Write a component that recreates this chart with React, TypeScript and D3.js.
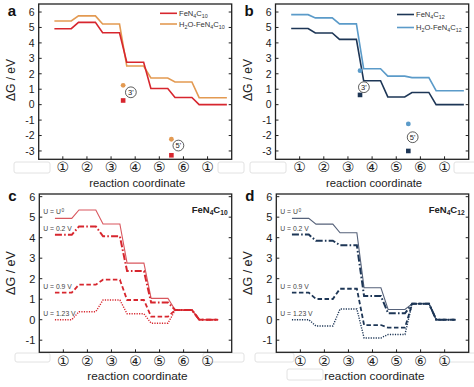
import React from "react";
import * as d3 from "d3";

// circled step labels along the reaction coordinate
const stepLabels = ["①", "②", "③", "④", "⑤", "⑥", "①"];

// panel a: FeN4C10
const feN4C10 = [4.92, 5.33, 4.66, 2.75, 1.05, 0.46, 0];
const h2oFeN4C10 = [5.42, 5.75, 5.22, 2.5, 1.73, 1.47, 0.45];
const feN4C10Side = [0.27, -3.28];
const h2oFeN4C10Side = [1.25, -2.24];

// panel b: FeN4C12
const feN4C12 = [4.93, 4.64, 4.23, 1.55, 0.5, 0.79, 0];
const h2oFeN4C12 = [5.83, 5.62, 5.23, 2.33, 1.85, 1.75, 0.9];
const feN4C12Side = [0.63, -3.0];
const h2oFeN4C12Side = [2.2, -1.25];

// side intermediates 3' and 5' sit between steps
const sideSteps = [2.5, 4.5];
const sideNames = ["3'", "5'"];

// panel c: FeN4C10 at potentials
const c10U0 = [4.94, 5.35, 4.67, 2.76, 1.04, 0.47, 0];
const c10U02 = [4.14, 4.55, 4.07, 2.37, 0.84, 0.47, 0];
const c10U09 = [1.32, 1.71, 1.95, 0.96, 0.15, 0.47, 0];
const c10U123 = [0, 0.39, 0.96, 0.29, -0.17, 0.47, 0];

// panel d: FeN4C12 at potentials
const c12U0 = [4.94, 4.66, 4.24, 1.56, 0.5, 0.78, 0];
const c12U02 = [4.15, 3.85, 3.63, 1.15, 0.31, 0.78, 0];
const c12U09 = [1.32, 1.01, 1.51, -0.26, -0.39, 0.78, 0];
const c12U123 = [0, -0.31, 0.52, -0.89, -0.72, 0.78, 0];

const potLabels = ["U = U", "U = 0.2 V", "U = 0.9 V", "U = 1.23 V"];

const ticksAB = [-3, -2, -1, 0, 1, 2, 3, 4, 5, 6];
const ticksCD = [-1, 0, 1, 2, 3, 4, 5, 6];

const RED = "#d7262e";
const ORANGE = "#e39a52";
const NAVY = "#1d3656";
const LBLUE = "#5b9bc9";
const FONT = "Liberation Sans, Arial, sans-serif";

// plateau path for an energy profile
function stepPath(vals: number[], x: any, y: any, hw: number, lastRight: number) {
  const pts: [number, number][] = [];
  vals.forEach((v, i) => {
    pts.push([i - hw, v]);
    pts.push([i === vals.length - 1 ? i + lastRight : i + hw, v]);
  });
  return d3.line<[number, number]>().x((d) => x(d[0])).y((d) => y(d[1]))(pts) || "";
}

function Formula({ parts, size }: { parts: [string, boolean][]; size: number }) {
  return (
    <>
      {parts.map(([t, sub], i) => (
        <tspan key={i} fontSize={sub ? size * 0.7 : size} dy={i === 0 ? 0 : sub ? size * 0.25 : -size * 0.25}>
          {t}
        </tspan>
      ))}
    </>
  );
}

const fe10Parts: [string, boolean][] = [["FeN", false], ["4", true], ["C", false], ["10", true]];
const fe12Parts: [string, boolean][] = [["FeN", false], ["4", true], ["C", false], ["12", true]];
const h2o10Parts: [string, boolean][] = [["H", false], ["2", true], ["O-FeN", false], ["4", true], ["C", false], ["10", true]];
const h2o12Parts: [string, boolean][] = [["H", false], ["2", true], ["O-FeN", false], ["4", true], ["C", false], ["12", true]];

function Frame({ L, R, T, B, y, ticks, labelY, fs, letter, letterY, ylab, rcY }: any) {
  const x = d3.scaleLinear().domain([-1, 7]).range([L, R]);
  return (
    <g fontFamily={FONT}>
      <rect x={L} y={T} width={R - L} height={B - T} fill="none" stroke="#222" strokeWidth={1.3} />
      {ticks.map((t: number) => (
        <g key={t}>
          <line x1={L} x2={L + 3} y1={y(t)} y2={y(t)} stroke="#222" />
          <line x1={R} x2={R - 3} y1={y(t)} y2={y(t)} stroke="#222" />
          <text x={L - 4} y={y(t)} dy="0.36em" textAnchor="end" fontSize={fs} fill="#222">
            {t}
          </text>
        </g>
      ))}
      {stepLabels.map((s, i) => (
        <g key={i}>
          <line x1={x(i)} x2={x(i)} y1={B} y2={B - 3} stroke="#222" />
          <text x={x(i)} y={labelY} dy="0.36em" textAnchor="middle" fontSize={14} fontFamily="DejaVu Sans" fill="#222">
            {s}
          </text>
        </g>
      ))}
      <text x={L - 31} y={letterY} fontSize={15} fontWeight="bold" fill="#111">
        {letter}
      </text>
      <text transform={`translate(${L - 24},${ylab}) rotate(-90)`} textAnchor="middle" fontSize={fs + 1.5} fill="#222">
        ΔG / eV
      </text>
      <text x={(L + R) / 2 + 2} y={rcY} textAnchor="middle" fontSize={fs + 0.8} fill="#222">
        reaction coordinate
      </text>
    </g>
  );
}

function GhostBox({ x, y, w, h }: any) {
  return <rect x={x} y={y} width={w} height={h} rx={2} fill="#fff" stroke="#e2e2e2" strokeWidth={1} />;
}

function TopPanel({ L, R, dark, light, darkSide, lightSide, darkCol, lightCol, letter, darkParts, lightParts, legX, legY, sideLab }: any) {
  const T = 4, B = 159.3;
  const x = d3.scaleLinear().domain([-1, 7]).range([L, R]);
  const y = d3.scaleLinear().domain([-3.54, 6.52]).range([B, T]);
  return (
    <g>
      <Frame L={L} R={R} T={T} B={B} y={y} ticks={ticksAB} labelY={166.5} fs={10.5} letter={letter} letterY={16} ylab={80} rcY={187} />
      <path d={stepPath(light, x, y, 0.35, 0.8)} fill="none" stroke={lightCol} strokeWidth={1.6} />
      <path d={stepPath(dark, x, y, 0.35, 0.8)} fill="none" stroke={darkCol} strokeWidth={1.6} />
      {sideSteps.map((s, i) => (
        <g key={i}>
          <circle cx={x(s)} cy={y(lightSide[i])} r={2.4} fill={lightCol} />
          <rect x={x(s) - 2.3} y={y(darkSide[i]) - 2.3} width={4.6} height={4.6} fill={darkCol} />
          <circle cx={x(sideLab[i][0])} cy={y(sideLab[i][1])} r={5.4} fill="#fff" stroke="#333" strokeWidth={0.8} />
          <text x={x(sideLab[i][0])} y={y(sideLab[i][1])} dy="0.35em" textAnchor="middle" fontSize={7.5} fontFamily={FONT} fill="#222">
            {sideNames[i]}
          </text>
        </g>
      ))}
      <g fontFamily={FONT} fill="#333">
        <line x1={legX} x2={legX + 17} y1={legY[0]} y2={legY[0]} stroke={darkCol} strokeWidth={1.6} />
        <line x1={legX} x2={legX + 17} y1={legY[1]} y2={legY[1]} stroke={lightCol} strokeWidth={1.6} />
        <text x={legX + 19} y={legY[0] + 2.6}>
          <Formula parts={darkParts} size={7.6} />
        </text>
        <text x={legX + 19} y={legY[1] + 2.6}>
          <Formula parts={lightParts} size={7.6} />
        </text>
      </g>
    </g>
  );
}

function BottomPanel({ L, R, series, col, u0Col, letter, titleParts }: any) {
  const T = 194, B = 352.3;
  const x = d3.scaleLinear().domain([-1, 7]).range([L, R]);
  const y = d3.scaleLinear().domain([-1.59, 6.13]).range([B, T]);
  const styles = [
    { dash: "none", w: 1.1, c: u0Col },
    { dash: "7,2.2,1.6,2.2", w: 2, c: col },
    { dash: "4.5,2.5", w: 1.8, c: col },
    { dash: "1.2,1.3", w: 1.4, c: col },
  ];
  return (
    <g>
      <Frame L={L} R={R} T={T} B={B} y={y} ticks={ticksCD} labelY={360.5} fs={11} letter={letter} letterY={201} ylab={273} rcY={380} />
      {series.map((s: number[], k: number) => (
        <path key={k} d={stepPath(s, x, y, 0.35, 0.45)} fill="none" stroke={styles[k].c} strokeWidth={styles[k].w} strokeDasharray={styles[k].dash} />
      ))}
      {series.map((s: number[], k: number) => (
        <text key={k} x={L + 4} y={y(s[0]) - 4} fontSize={6.8} fontFamily={FONT} fill="#444">
          {potLabels[k]}
          {k === 0 && (
            <tspan fontSize={4.8} dx={0.5} dy={-2.6}>
              0
            </tspan>
          )}
        </text>
      ))}
      <text x={R - 40} y={213} fontFamily={FONT} fontWeight="bold" fill="#222">
        <Formula parts={titleParts} size={9.5} />
      </text>
    </g>
  );
}

export default function App() {
  return (
    <svg width={474} height={387} style={{ position: "absolute", left: 0, top: 0, background: "#fff" }}>
      <GhostBox x={14} y={162} w={36} h={11} />
      <GhostBox x={218} y={162} w={26} h={11} />
      <GhostBox x={250} y={162} w={36} h={11} />
      <GhostBox x={454} y={162} w={22} h={11} />
      <GhostBox x={15} y={353} w={35} h={9} />
      <GhostBox x={203} y={353} w={41} h={9} />
      <GhostBox x={255} y={353} w={39} h={9} />
      <GhostBox x={440} y={353} w={36} h={9} />
      <GhostBox x={287} y={369} w={36} h={11} />
      <TopPanel
        L={38.7}
        R={231.7}
        dark={feN4C10}
        light={h2oFeN4C10}
        darkSide={feN4C10Side}
        lightSide={h2oFeN4C10Side}
        darkCol={RED}
        lightCol={ORANGE}
        letter="a"
        darkParts={fe10Parts}
        lightParts={h2o10Parts}
        legX={160}
        legY={[13.3, 24]}
        sideLab={[[2.82, 0.8], [4.79, -2.65]]}
      />
      <TopPanel
        L={275.5}
        R={468.7}
        dark={feN4C12}
        light={h2oFeN4C12}
        darkSide={feN4C12Side}
        lightSide={h2oFeN4C12Side}
        darkCol={NAVY}
        lightCol={LBLUE}
        letter="b"
        darkParts={fe12Parts}
        lightParts={h2o12Parts}
        legX={397}
        legY={[14.5, 27.5]}
        sideLab={[[2.66, 1.13], [4.68, -2.11]]}
      />
      <BottomPanel L={39.3} R={231.7} series={[c10U0, c10U02, c10U09, c10U123]} col={RED} u0Col="#d9575e" letter="c" titleParts={fe10Parts} />
      <BottomPanel L={276.3} R={468.7} series={[c12U0, c12U02, c12U09, c12U123]} col={NAVY} u0Col="#56627a" letter="d" titleParts={fe12Parts} />
    </svg>
  );
}
